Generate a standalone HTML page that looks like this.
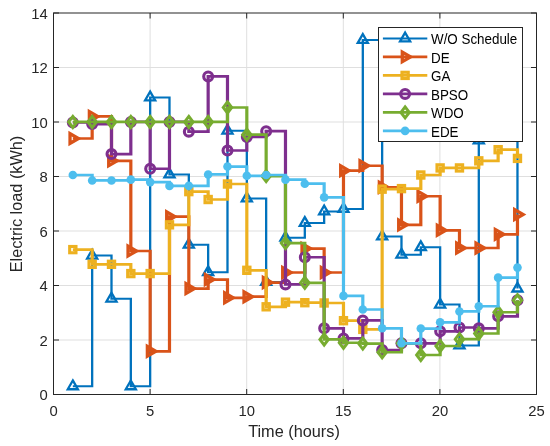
<!DOCTYPE html>
<html><head><meta charset="utf-8"><title>Electric load</title>
<style>html,body{margin:0;padding:0;background:#fff}body{width:550px;height:446px;position:relative;overflow:hidden}</style>
</head><body>
<svg width="550" height="446" viewBox="0 0 550 446" style="position:absolute;left:0;top:0">
<rect x="0" y="0" width="550" height="446" fill="#fff"/>
<path d="M150.10 13.00V394.50M246.70 13.00V394.50M343.30 13.00V394.50M439.90 13.00V394.50M53.50 340.00H536.50M53.50 285.50H536.50M53.50 231.00H536.50M53.50 176.50H536.50M53.50 122.00H536.50M53.50 67.50H536.50" stroke="#dfdfdf" stroke-width="1" fill="none"/>
<g>
<path transform="scale(1.15000,1)" d="M63.332 386.30H80.143V255.61H96.953V298.63H113.763V386.30H130.574V97.41H147.384V174.47H164.195V244.72H181.005V272.22H197.816V130.63H214.626V198.43H231.437V282.02H248.247V237.64H265.057V222.93H281.868V211.50H298.678V209.05H315.489V39.96H332.299V236.55H349.110V254.79H365.920V247.17H382.730V304.62H399.541V345.46H416.351V140.43H433.162V130.08H449.972V288.55" fill="none" stroke="#0072BD" stroke-width="2.0" stroke-linejoin="miter"/>
<polygon points="72.83,380.45 77.90,389.23 67.77,389.23" fill="none" stroke="#0072BD" stroke-width="2.3" stroke-linejoin="miter"/>
<polygon points="92.16,249.76 97.23,258.53 87.10,258.53" fill="none" stroke="#0072BD" stroke-width="2.3" stroke-linejoin="miter"/>
<polygon points="111.50,292.78 116.56,301.55 106.43,301.55" fill="none" stroke="#0072BD" stroke-width="2.3" stroke-linejoin="miter"/>
<polygon points="130.83,380.45 135.89,389.23 125.76,389.23" fill="none" stroke="#0072BD" stroke-width="2.3" stroke-linejoin="miter"/>
<polygon points="150.16,91.56 155.23,100.33 145.09,100.33" fill="none" stroke="#0072BD" stroke-width="2.3" stroke-linejoin="miter"/>
<polygon points="169.49,168.62 174.56,177.39 164.43,177.39" fill="none" stroke="#0072BD" stroke-width="2.3" stroke-linejoin="miter"/>
<polygon points="188.82,238.87 193.89,247.64 183.76,247.64" fill="none" stroke="#0072BD" stroke-width="2.3" stroke-linejoin="miter"/>
<polygon points="208.16,266.37 213.22,275.14 203.09,275.14" fill="none" stroke="#0072BD" stroke-width="2.3" stroke-linejoin="miter"/>
<polygon points="227.49,124.78 232.55,133.55 222.42,133.55" fill="none" stroke="#0072BD" stroke-width="2.3" stroke-linejoin="miter"/>
<polygon points="246.82,192.58 251.89,201.35 241.75,201.35" fill="none" stroke="#0072BD" stroke-width="2.3" stroke-linejoin="miter"/>
<polygon points="266.15,276.17 271.22,284.94 261.09,284.94" fill="none" stroke="#0072BD" stroke-width="2.3" stroke-linejoin="miter"/>
<polygon points="285.48,231.79 290.55,240.56 280.42,240.56" fill="none" stroke="#0072BD" stroke-width="2.3" stroke-linejoin="miter"/>
<polygon points="304.82,217.08 309.88,225.86 299.75,225.86" fill="none" stroke="#0072BD" stroke-width="2.3" stroke-linejoin="miter"/>
<polygon points="324.15,205.65 329.21,214.42 319.08,214.42" fill="none" stroke="#0072BD" stroke-width="2.3" stroke-linejoin="miter"/>
<polygon points="343.48,203.20 348.55,211.97 338.41,211.97" fill="none" stroke="#0072BD" stroke-width="2.3" stroke-linejoin="miter"/>
<polygon points="362.81,34.11 367.88,42.88 357.75,42.88" fill="none" stroke="#0072BD" stroke-width="2.3" stroke-linejoin="miter"/>
<polygon points="382.14,230.70 387.21,239.47 377.08,239.47" fill="none" stroke="#0072BD" stroke-width="2.3" stroke-linejoin="miter"/>
<polygon points="401.48,248.94 406.54,257.71 396.41,257.71" fill="none" stroke="#0072BD" stroke-width="2.3" stroke-linejoin="miter"/>
<polygon points="420.81,241.32 425.87,250.09 415.74,250.09" fill="none" stroke="#0072BD" stroke-width="2.3" stroke-linejoin="miter"/>
<polygon points="440.14,298.77 445.21,307.54 435.07,307.54" fill="none" stroke="#0072BD" stroke-width="2.3" stroke-linejoin="miter"/>
<polygon points="459.47,339.61 464.54,348.39 454.41,348.39" fill="none" stroke="#0072BD" stroke-width="2.3" stroke-linejoin="miter"/>
<polygon points="478.80,134.58 483.87,143.35 473.74,143.35" fill="none" stroke="#0072BD" stroke-width="2.3" stroke-linejoin="miter"/>
<polygon points="498.14,124.23 503.20,133.01 493.07,133.01" fill="none" stroke="#0072BD" stroke-width="2.3" stroke-linejoin="miter"/>
<polygon points="517.47,282.70 522.53,291.48 512.40,291.48" fill="none" stroke="#0072BD" stroke-width="2.3" stroke-linejoin="miter"/>
</g>
<g>
<path transform="scale(1.18519,1)" d="M61.452 138.52H77.763V116.47H94.075V160.85H110.386V250.98H126.698V351.31H143.009V216.67H159.320V288.55H175.632V279.57H191.943V297.81H208.254V296.72H224.566V282.56H240.877V272.49H257.188V248.53H273.500V272.49H289.811V170.65H306.123V165.75H322.434V187.26H338.745V224.84H355.057V196.25H371.368V230.28H387.680V247.98H403.991V247.98H420.302V234.37H436.614V214.49" fill="none" stroke="#D95319" stroke-width="2.7" stroke-linejoin="miter"/>
<polygon points="78.43,138.52 70.03,143.37 70.03,133.67" fill="none" stroke="#D95319" stroke-width="3.3" stroke-linejoin="miter"/>
<polygon points="97.76,116.47 89.36,121.32 89.36,111.62" fill="none" stroke="#D95319" stroke-width="3.3" stroke-linejoin="miter"/>
<polygon points="117.10,160.85 108.70,165.70 108.70,156.00" fill="none" stroke="#D95319" stroke-width="3.3" stroke-linejoin="miter"/>
<polygon points="136.43,250.98 128.03,255.83 128.03,246.13" fill="none" stroke="#D95319" stroke-width="3.3" stroke-linejoin="miter"/>
<polygon points="155.76,351.31 147.36,356.16 147.36,346.47" fill="none" stroke="#D95319" stroke-width="3.3" stroke-linejoin="miter"/>
<polygon points="175.09,216.67 166.69,221.52 166.69,211.82" fill="none" stroke="#D95319" stroke-width="3.3" stroke-linejoin="miter"/>
<polygon points="194.42,288.55 186.02,293.40 186.02,283.70" fill="none" stroke="#D95319" stroke-width="3.3" stroke-linejoin="miter"/>
<polygon points="213.76,279.57 205.36,284.42 205.36,274.72" fill="none" stroke="#D95319" stroke-width="3.3" stroke-linejoin="miter"/>
<polygon points="233.09,297.81 224.69,302.66 224.69,292.96" fill="none" stroke="#D95319" stroke-width="3.3" stroke-linejoin="miter"/>
<polygon points="252.42,296.72 244.02,301.57 244.02,291.87" fill="none" stroke="#D95319" stroke-width="3.3" stroke-linejoin="miter"/>
<polygon points="271.75,282.56 263.35,287.41 263.35,277.71" fill="none" stroke="#D95319" stroke-width="3.3" stroke-linejoin="miter"/>
<polygon points="291.08,272.49 282.68,277.34 282.68,267.64" fill="none" stroke="#D95319" stroke-width="3.3" stroke-linejoin="miter"/>
<polygon points="310.42,248.53 302.02,253.38 302.02,243.68" fill="none" stroke="#D95319" stroke-width="3.3" stroke-linejoin="miter"/>
<polygon points="329.75,272.49 321.35,277.34 321.35,267.64" fill="none" stroke="#D95319" stroke-width="3.3" stroke-linejoin="miter"/>
<polygon points="349.08,170.65 340.68,175.50 340.68,165.80" fill="none" stroke="#D95319" stroke-width="3.3" stroke-linejoin="miter"/>
<polygon points="368.41,165.75 360.01,170.60 360.01,160.90" fill="none" stroke="#D95319" stroke-width="3.3" stroke-linejoin="miter"/>
<polygon points="387.74,187.26 379.34,192.11 379.34,182.41" fill="none" stroke="#D95319" stroke-width="3.3" stroke-linejoin="miter"/>
<polygon points="407.08,224.84 398.68,229.69 398.68,219.99" fill="none" stroke="#D95319" stroke-width="3.3" stroke-linejoin="miter"/>
<polygon points="426.41,196.25 418.01,201.10 418.01,191.40" fill="none" stroke="#D95319" stroke-width="3.3" stroke-linejoin="miter"/>
<polygon points="445.74,230.28 437.34,235.13 437.34,225.43" fill="none" stroke="#D95319" stroke-width="3.3" stroke-linejoin="miter"/>
<polygon points="465.07,247.98 456.67,252.83 456.67,243.13" fill="none" stroke="#D95319" stroke-width="3.3" stroke-linejoin="miter"/>
<polygon points="484.40,247.98 476.00,252.83 476.00,243.13" fill="none" stroke="#D95319" stroke-width="3.3" stroke-linejoin="miter"/>
<polygon points="503.74,234.37 495.34,239.22 495.34,229.52" fill="none" stroke="#D95319" stroke-width="3.3" stroke-linejoin="miter"/>
<polygon points="523.07,214.49 514.67,219.34 514.67,209.64" fill="none" stroke="#D95319" stroke-width="3.3" stroke-linejoin="miter"/>
</g>
<g>
<path transform="scale(1.18519,1)" d="M61.452 249.62H77.763V264.32H94.075V264.32H110.386V273.58H126.698V273.58H143.009V224.84H159.320V191.62H175.632V199.52H191.943V184.00H208.254V270.31H224.566V306.80H240.877V302.17H257.188V302.71H273.500V302.98H289.811V320.68H306.123V329.40H322.434V189.17H338.745V188.62H355.057V175.01H371.368V167.93H387.680V167.93H403.991V160.85H420.302V149.69H436.614V158.40" fill="none" stroke="#EDB120" stroke-width="2.7" stroke-linejoin="miter"/>
<rect x="69.68" y="246.47" width="6.30" height="6.30" fill="none" stroke="#EDB120" stroke-width="3.1"/>
<rect x="89.01" y="261.17" width="6.30" height="6.30" fill="none" stroke="#EDB120" stroke-width="3.1"/>
<rect x="108.35" y="261.17" width="6.30" height="6.30" fill="none" stroke="#EDB120" stroke-width="3.1"/>
<rect x="127.68" y="270.43" width="6.30" height="6.30" fill="none" stroke="#EDB120" stroke-width="3.1"/>
<rect x="147.01" y="270.43" width="6.30" height="6.30" fill="none" stroke="#EDB120" stroke-width="3.1"/>
<rect x="166.34" y="221.69" width="6.30" height="6.30" fill="none" stroke="#EDB120" stroke-width="3.1"/>
<rect x="185.67" y="188.47" width="6.30" height="6.30" fill="none" stroke="#EDB120" stroke-width="3.1"/>
<rect x="205.01" y="196.37" width="6.30" height="6.30" fill="none" stroke="#EDB120" stroke-width="3.1"/>
<rect x="224.34" y="180.85" width="6.30" height="6.30" fill="none" stroke="#EDB120" stroke-width="3.1"/>
<rect x="243.67" y="267.16" width="6.30" height="6.30" fill="none" stroke="#EDB120" stroke-width="3.1"/>
<rect x="263.00" y="303.65" width="6.30" height="6.30" fill="none" stroke="#EDB120" stroke-width="3.1"/>
<rect x="282.33" y="299.02" width="6.30" height="6.30" fill="none" stroke="#EDB120" stroke-width="3.1"/>
<rect x="301.67" y="299.56" width="6.30" height="6.30" fill="none" stroke="#EDB120" stroke-width="3.1"/>
<rect x="321.00" y="299.83" width="6.30" height="6.30" fill="none" stroke="#EDB120" stroke-width="3.1"/>
<rect x="340.33" y="317.53" width="6.30" height="6.30" fill="none" stroke="#EDB120" stroke-width="3.1"/>
<rect x="359.66" y="326.25" width="6.30" height="6.30" fill="none" stroke="#EDB120" stroke-width="3.1"/>
<rect x="378.99" y="186.02" width="6.30" height="6.30" fill="none" stroke="#EDB120" stroke-width="3.1"/>
<rect x="398.33" y="185.47" width="6.30" height="6.30" fill="none" stroke="#EDB120" stroke-width="3.1"/>
<rect x="417.66" y="171.86" width="6.30" height="6.30" fill="none" stroke="#EDB120" stroke-width="3.1"/>
<rect x="436.99" y="164.78" width="6.30" height="6.30" fill="none" stroke="#EDB120" stroke-width="3.1"/>
<rect x="456.32" y="164.78" width="6.30" height="6.30" fill="none" stroke="#EDB120" stroke-width="3.1"/>
<rect x="475.65" y="157.70" width="6.30" height="6.30" fill="none" stroke="#EDB120" stroke-width="3.1"/>
<rect x="494.99" y="146.54" width="6.30" height="6.30" fill="none" stroke="#EDB120" stroke-width="3.1"/>
<rect x="514.32" y="155.25" width="6.30" height="6.30" fill="none" stroke="#EDB120" stroke-width="3.1"/>
</g>
<g>
<path transform="scale(1.18519,1)" d="M61.452 122.46H77.763V124.09H94.075V154.04H110.386V121.91H126.698V168.75H143.009V121.91H159.320V131.72H175.632V76.44H191.943V150.50H208.254V136.89H224.566V131.17H240.877V284.47H257.188V257.24H273.500V328.31H289.811V338.38H306.123V320.41H322.434V350.09H338.745V343.28H355.057V343.28H371.368V331.30H387.680V327.49H403.991V328.31H420.302V316.33H436.614V300.26" fill="none" stroke="#7E2F8E" stroke-width="2.7" stroke-linejoin="miter"/>
<circle cx="72.83" cy="122.46" r="4.45" fill="none" stroke="#7E2F8E" stroke-width="3.1"/>
<circle cx="92.16" cy="124.09" r="4.45" fill="none" stroke="#7E2F8E" stroke-width="3.1"/>
<circle cx="111.50" cy="154.04" r="4.45" fill="none" stroke="#7E2F8E" stroke-width="3.1"/>
<circle cx="130.83" cy="121.91" r="4.45" fill="none" stroke="#7E2F8E" stroke-width="3.1"/>
<circle cx="150.16" cy="168.75" r="4.45" fill="none" stroke="#7E2F8E" stroke-width="3.1"/>
<circle cx="169.49" cy="121.91" r="4.45" fill="none" stroke="#7E2F8E" stroke-width="3.1"/>
<circle cx="188.82" cy="131.72" r="4.45" fill="none" stroke="#7E2F8E" stroke-width="3.1"/>
<circle cx="208.16" cy="76.44" r="4.45" fill="none" stroke="#7E2F8E" stroke-width="3.1"/>
<circle cx="227.49" cy="150.50" r="4.45" fill="none" stroke="#7E2F8E" stroke-width="3.1"/>
<circle cx="246.82" cy="136.89" r="4.45" fill="none" stroke="#7E2F8E" stroke-width="3.1"/>
<circle cx="266.15" cy="131.17" r="4.45" fill="none" stroke="#7E2F8E" stroke-width="3.1"/>
<circle cx="285.48" cy="284.47" r="4.45" fill="none" stroke="#7E2F8E" stroke-width="3.1"/>
<circle cx="304.82" cy="257.24" r="4.45" fill="none" stroke="#7E2F8E" stroke-width="3.1"/>
<circle cx="324.15" cy="328.31" r="4.45" fill="none" stroke="#7E2F8E" stroke-width="3.1"/>
<circle cx="343.48" cy="338.38" r="4.45" fill="none" stroke="#7E2F8E" stroke-width="3.1"/>
<circle cx="362.81" cy="320.41" r="4.45" fill="none" stroke="#7E2F8E" stroke-width="3.1"/>
<circle cx="382.14" cy="350.09" r="4.45" fill="none" stroke="#7E2F8E" stroke-width="3.1"/>
<circle cx="401.48" cy="343.28" r="4.45" fill="none" stroke="#7E2F8E" stroke-width="3.1"/>
<circle cx="420.81" cy="343.28" r="4.45" fill="none" stroke="#7E2F8E" stroke-width="3.1"/>
<circle cx="440.14" cy="331.30" r="4.45" fill="none" stroke="#7E2F8E" stroke-width="3.1"/>
<circle cx="459.47" cy="327.49" r="4.45" fill="none" stroke="#7E2F8E" stroke-width="3.1"/>
<circle cx="478.80" cy="328.31" r="4.45" fill="none" stroke="#7E2F8E" stroke-width="3.1"/>
<circle cx="498.14" cy="316.33" r="4.45" fill="none" stroke="#7E2F8E" stroke-width="3.1"/>
<circle cx="517.47" cy="300.26" r="4.45" fill="none" stroke="#7E2F8E" stroke-width="3.1"/>
</g>
<g>
<path transform="scale(1.18519,1)" d="M61.452 121.91H77.763V121.91H94.075V121.91H110.386V121.91H126.698V121.91H143.009V121.91H159.320V121.91H175.632V121.91H191.943V107.48H208.254V134.71H224.566V176.10H240.877V243.08H257.188V282.84H273.500V339.47H289.811V342.74H306.123V343.55H322.434V352.27H338.745V343.28H355.057V354.99H371.368V346.01H387.680V339.20H403.991V333.48H420.302V312.24H436.614V300.26" fill="none" stroke="#77AC30" stroke-width="2.7" stroke-linejoin="miter"/>
<polygon points="72.83,116.41 77.03,121.91 72.83,127.41 68.63,121.91" fill="none" stroke="#77AC30" stroke-width="3.0" stroke-linejoin="miter"/>
<polygon points="92.16,116.41 96.36,121.91 92.16,127.41 87.96,121.91" fill="none" stroke="#77AC30" stroke-width="3.0" stroke-linejoin="miter"/>
<polygon points="111.50,116.41 115.70,121.91 111.50,127.41 107.30,121.91" fill="none" stroke="#77AC30" stroke-width="3.0" stroke-linejoin="miter"/>
<polygon points="130.83,116.41 135.03,121.91 130.83,127.41 126.63,121.91" fill="none" stroke="#77AC30" stroke-width="3.0" stroke-linejoin="miter"/>
<polygon points="150.16,116.41 154.36,121.91 150.16,127.41 145.96,121.91" fill="none" stroke="#77AC30" stroke-width="3.0" stroke-linejoin="miter"/>
<polygon points="169.49,116.41 173.69,121.91 169.49,127.41 165.29,121.91" fill="none" stroke="#77AC30" stroke-width="3.0" stroke-linejoin="miter"/>
<polygon points="188.82,116.41 193.02,121.91 188.82,127.41 184.62,121.91" fill="none" stroke="#77AC30" stroke-width="3.0" stroke-linejoin="miter"/>
<polygon points="208.16,116.41 212.36,121.91 208.16,127.41 203.96,121.91" fill="none" stroke="#77AC30" stroke-width="3.0" stroke-linejoin="miter"/>
<polygon points="227.49,101.98 231.69,107.48 227.49,112.98 223.29,107.48" fill="none" stroke="#77AC30" stroke-width="3.0" stroke-linejoin="miter"/>
<polygon points="246.82,129.21 251.02,134.71 246.82,140.21 242.62,134.71" fill="none" stroke="#77AC30" stroke-width="3.0" stroke-linejoin="miter"/>
<polygon points="266.15,170.60 270.35,176.10 266.15,181.60 261.95,176.10" fill="none" stroke="#77AC30" stroke-width="3.0" stroke-linejoin="miter"/>
<polygon points="285.48,237.58 289.68,243.08 285.48,248.58 281.28,243.08" fill="none" stroke="#77AC30" stroke-width="3.0" stroke-linejoin="miter"/>
<polygon points="304.82,277.34 309.02,282.84 304.82,288.34 300.62,282.84" fill="none" stroke="#77AC30" stroke-width="3.0" stroke-linejoin="miter"/>
<polygon points="324.15,333.97 328.35,339.47 324.15,344.97 319.95,339.47" fill="none" stroke="#77AC30" stroke-width="3.0" stroke-linejoin="miter"/>
<polygon points="343.48,337.24 347.68,342.74 343.48,348.24 339.28,342.74" fill="none" stroke="#77AC30" stroke-width="3.0" stroke-linejoin="miter"/>
<polygon points="362.81,338.05 367.01,343.55 362.81,349.05 358.61,343.55" fill="none" stroke="#77AC30" stroke-width="3.0" stroke-linejoin="miter"/>
<polygon points="382.14,346.77 386.34,352.27 382.14,357.77 377.94,352.27" fill="none" stroke="#77AC30" stroke-width="3.0" stroke-linejoin="miter"/>
<polygon points="401.48,337.78 405.68,343.28 401.48,348.78 397.28,343.28" fill="none" stroke="#77AC30" stroke-width="3.0" stroke-linejoin="miter"/>
<polygon points="420.81,349.49 425.01,354.99 420.81,360.49 416.61,354.99" fill="none" stroke="#77AC30" stroke-width="3.0" stroke-linejoin="miter"/>
<polygon points="440.14,340.51 444.34,346.01 440.14,351.51 435.94,346.01" fill="none" stroke="#77AC30" stroke-width="3.0" stroke-linejoin="miter"/>
<polygon points="459.47,333.70 463.67,339.20 459.47,344.70 455.27,339.20" fill="none" stroke="#77AC30" stroke-width="3.0" stroke-linejoin="miter"/>
<polygon points="478.80,327.98 483.00,333.48 478.80,338.98 474.60,333.48" fill="none" stroke="#77AC30" stroke-width="3.0" stroke-linejoin="miter"/>
<polygon points="498.14,306.74 502.34,312.24 498.14,317.74 493.94,312.24" fill="none" stroke="#77AC30" stroke-width="3.0" stroke-linejoin="miter"/>
<polygon points="517.47,294.76 521.67,300.26 517.47,305.76 513.27,300.26" fill="none" stroke="#77AC30" stroke-width="3.0" stroke-linejoin="miter"/>
</g>
<g>
<path transform="scale(1.18519,1)" d="M61.452 175.01H77.763V180.46H94.075V180.46H110.386V179.64H126.698V182.09H143.009V185.90H159.320V185.90H175.632V174.47H191.943V166.57H208.254V175.83H224.566V175.01H240.877V179.64H257.188V183.72H273.500V197.34H289.811V295.90H306.123V309.52H322.434V328.31H338.745V343.28H355.057V328.58H371.368V322.32H387.680V311.43H403.991V306.25H420.302V277.66H436.614V267.59" fill="none" stroke="#4DBEEE" stroke-width="2.7" stroke-linejoin="miter"/>
<circle cx="72.83" cy="175.01" r="4.3" fill="#4DBEEE"/>
<circle cx="92.16" cy="180.46" r="4.3" fill="#4DBEEE"/>
<circle cx="111.50" cy="180.46" r="4.3" fill="#4DBEEE"/>
<circle cx="130.83" cy="179.64" r="4.3" fill="#4DBEEE"/>
<circle cx="150.16" cy="182.09" r="4.3" fill="#4DBEEE"/>
<circle cx="169.49" cy="185.90" r="4.3" fill="#4DBEEE"/>
<circle cx="188.82" cy="185.90" r="4.3" fill="#4DBEEE"/>
<circle cx="208.16" cy="174.47" r="4.3" fill="#4DBEEE"/>
<circle cx="227.49" cy="166.57" r="4.3" fill="#4DBEEE"/>
<circle cx="246.82" cy="175.83" r="4.3" fill="#4DBEEE"/>
<circle cx="266.15" cy="175.01" r="4.3" fill="#4DBEEE"/>
<circle cx="285.48" cy="179.64" r="4.3" fill="#4DBEEE"/>
<circle cx="304.82" cy="183.72" r="4.3" fill="#4DBEEE"/>
<circle cx="324.15" cy="197.34" r="4.3" fill="#4DBEEE"/>
<circle cx="343.48" cy="295.90" r="4.3" fill="#4DBEEE"/>
<circle cx="362.81" cy="309.52" r="4.3" fill="#4DBEEE"/>
<circle cx="382.14" cy="328.31" r="4.3" fill="#4DBEEE"/>
<circle cx="401.48" cy="343.28" r="4.3" fill="#4DBEEE"/>
<circle cx="420.81" cy="328.58" r="4.3" fill="#4DBEEE"/>
<circle cx="440.14" cy="322.32" r="4.3" fill="#4DBEEE"/>
<circle cx="459.47" cy="311.43" r="4.3" fill="#4DBEEE"/>
<circle cx="478.80" cy="306.25" r="4.3" fill="#4DBEEE"/>
<circle cx="498.14" cy="277.66" r="4.3" fill="#4DBEEE"/>
<circle cx="517.47" cy="267.59" r="4.3" fill="#4DBEEE"/>
</g>
<path d="M53.50 394.50v-5.5M53.50 13.00v5.5M150.10 394.50v-5.5M150.10 13.00v5.5M246.70 394.50v-5.5M246.70 13.00v5.5M343.30 394.50v-5.5M343.30 13.00v5.5M439.90 394.50v-5.5M439.90 13.00v5.5M536.50 394.50v-5.5M536.50 13.00v5.5M53.50 394.50h5.5M536.50 394.50h-5.5M53.50 340.00h5.5M536.50 340.00h-5.5M53.50 285.50h5.5M536.50 285.50h-5.5M53.50 231.00h5.5M536.50 231.00h-5.5M53.50 176.50h5.5M536.50 176.50h-5.5M53.50 122.00h5.5M536.50 122.00h-5.5M53.50 67.50h5.5M536.50 67.50h-5.5M53.50 13.00h5.5M536.50 13.00h-5.5" stroke="#262626" stroke-width="1" fill="none"/>
<rect x="53.5" y="13" width="483" height="381.5" fill="none" stroke="#262626" stroke-width="1"/>
<text transform="translate(53.50,416.2) scale(1,1.04)" font-size="14.85" text-anchor="middle" font-family="Liberation Sans, Arial, Helvetica, sans-serif" fill="#262626">0</text>
<text transform="translate(150.10,416.2) scale(1,1.04)" font-size="14.85" text-anchor="middle" font-family="Liberation Sans, Arial, Helvetica, sans-serif" fill="#262626">5</text>
<text transform="translate(246.70,416.2) scale(1,1.04)" font-size="14.85" text-anchor="middle" font-family="Liberation Sans, Arial, Helvetica, sans-serif" fill="#262626">10</text>
<text transform="translate(343.30,416.2) scale(1,1.04)" font-size="14.85" text-anchor="middle" font-family="Liberation Sans, Arial, Helvetica, sans-serif" fill="#262626">15</text>
<text transform="translate(439.90,416.2) scale(1,1.04)" font-size="14.85" text-anchor="middle" font-family="Liberation Sans, Arial, Helvetica, sans-serif" fill="#262626">20</text>
<text transform="translate(536.50,416.2) scale(1,1.04)" font-size="14.85" text-anchor="middle" font-family="Liberation Sans, Arial, Helvetica, sans-serif" fill="#262626">25</text>
<text transform="translate(47.8,400.30) scale(1,1.04)" font-size="14.85" text-anchor="end" font-family="Liberation Sans, Arial, Helvetica, sans-serif" fill="#262626">0</text>
<text transform="translate(47.8,345.80) scale(1,1.04)" font-size="14.85" text-anchor="end" font-family="Liberation Sans, Arial, Helvetica, sans-serif" fill="#262626">2</text>
<text transform="translate(47.8,291.30) scale(1,1.04)" font-size="14.85" text-anchor="end" font-family="Liberation Sans, Arial, Helvetica, sans-serif" fill="#262626">4</text>
<text transform="translate(47.8,236.80) scale(1,1.04)" font-size="14.85" text-anchor="end" font-family="Liberation Sans, Arial, Helvetica, sans-serif" fill="#262626">6</text>
<text transform="translate(47.8,182.30) scale(1,1.04)" font-size="14.85" text-anchor="end" font-family="Liberation Sans, Arial, Helvetica, sans-serif" fill="#262626">8</text>
<text transform="translate(47.8,127.80) scale(1,1.04)" font-size="14.85" text-anchor="end" font-family="Liberation Sans, Arial, Helvetica, sans-serif" fill="#262626">10</text>
<text transform="translate(47.8,73.30) scale(1,1.04)" font-size="14.85" text-anchor="end" font-family="Liberation Sans, Arial, Helvetica, sans-serif" fill="#262626">12</text>
<text transform="translate(47.8,18.80) scale(1,1.04)" font-size="14.85" text-anchor="end" font-family="Liberation Sans, Arial, Helvetica, sans-serif" fill="#262626">14</text>
<text transform="translate(294.0,436.8) scale(1,1.04)" font-size="16.3" text-anchor="middle" font-family="Liberation Sans, Arial, Helvetica, sans-serif" fill="#262626">Time (hours)</text>
<text transform="translate(21.8,204.0) rotate(-90) scale(1,1.04)" font-size="16.3" text-anchor="middle" font-family="Liberation Sans, Arial, Helvetica, sans-serif" fill="#262626">Electric load (kWh)</text>
<rect x="378.50" y="27.50" width="144.00" height="114.00" fill="#fff" stroke="#262626" stroke-width="1"/>
<path d="M382.9 38.50H427.3" stroke="#0072BD" stroke-width="2.0" fill="none"/>
<polygon points="405.10,32.65 410.17,41.42 400.03,41.42" fill="none" stroke="#0072BD" stroke-width="2.3" stroke-linejoin="miter"/>
<text transform="translate(431,44.10) scale(1,1.05)" font-size="13.4" font-family="Liberation Sans, Arial, Helvetica, sans-serif" fill="#000">W/O Schedule</text>
<path d="M382.9 56.90H427.3" stroke="#D95319" stroke-width="2.7" fill="none"/>
<polygon points="410.70,56.90 402.30,61.75 402.30,52.05" fill="none" stroke="#D95319" stroke-width="3.3" stroke-linejoin="miter"/>
<text transform="translate(431,62.50) scale(1,1.05)" font-size="13.4" font-family="Liberation Sans, Arial, Helvetica, sans-serif" fill="#000">DE</text>
<path d="M382.9 75.40H427.3" stroke="#EDB120" stroke-width="2.7" fill="none"/>
<rect x="401.95" y="72.25" width="6.30" height="6.30" fill="none" stroke="#EDB120" stroke-width="3.1"/>
<text transform="translate(431,81.00) scale(1,1.05)" font-size="13.4" font-family="Liberation Sans, Arial, Helvetica, sans-serif" fill="#000">GA</text>
<path d="M382.9 93.90H427.3" stroke="#7E2F8E" stroke-width="2.7" fill="none"/>
<circle cx="405.10" cy="93.90" r="4.45" fill="none" stroke="#7E2F8E" stroke-width="3.1"/>
<text transform="translate(431,99.50) scale(1,1.05)" font-size="13.4" font-family="Liberation Sans, Arial, Helvetica, sans-serif" fill="#000">BPSO</text>
<path d="M382.9 112.40H427.3" stroke="#77AC30" stroke-width="2.7" fill="none"/>
<polygon points="405.10,106.90 409.30,112.40 405.10,117.90 400.90,112.40" fill="none" stroke="#77AC30" stroke-width="3.0" stroke-linejoin="miter"/>
<text transform="translate(431,118.00) scale(1,1.05)" font-size="13.4" font-family="Liberation Sans, Arial, Helvetica, sans-serif" fill="#000">WDO</text>
<path d="M382.9 130.90H427.3" stroke="#4DBEEE" stroke-width="2.7" fill="none"/>
<circle cx="405.10" cy="130.90" r="4.3" fill="#4DBEEE"/>
<text transform="translate(431,136.50) scale(1,1.05)" font-size="13.4" font-family="Liberation Sans, Arial, Helvetica, sans-serif" fill="#000">EDE</text>
</svg>
</body></html>
